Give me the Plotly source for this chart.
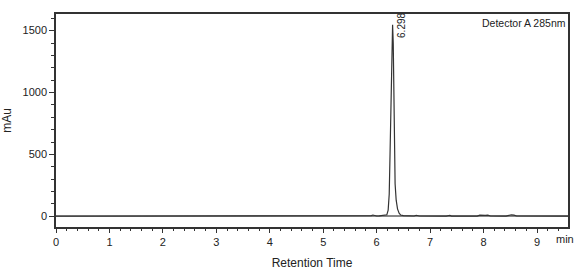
import plotly.graph_objects as go

# Retention time (min) and detector signal (mAu)
time_min = [0.0, 2.38, 2.42, 2.45, 2.48, 2.52, 5.85, 5.90, 5.93, 5.96, 6.00, 6.05, 6.10, 6.15,
            6.19, 6.215, 6.235, 6.25, 6.27, 6.285, 6.298, 6.31, 6.325, 6.336, 6.345, 6.365,
            6.39, 6.42, 6.45, 6.50, 6.55, 6.70, 6.74, 6.77, 6.80, 7.30, 7.34, 7.37, 7.40,
            7.88, 7.93, 7.98, 8.03, 8.08, 8.13, 8.42, 8.47, 8.52, 8.57, 8.62, 9.6]
signal_mau = [0, 0, 4, 6, 4, 0, 0, 6, 10, 6, 2, 3, 5, 6,
              12, 50, 180, 500, 1000, 1400, 1548, 1400, 1000, 500, 260, 130,
              60, 25, 10, 5, 3, 2, 8, 7, 2, 1, 8, 7, 1,
              1, 9, 6, 8, 9, 2, 1, 9, 12, 9, 2, 1]

peak_time = 6.298
peak_label = "6.298"
detector_label = "Detector A 285nm"

x_ticks = [0, 1, 2, 3, 4, 5, 6, 7, 8, 9]
y_ticks = [0, 500, 1000, 1500]

font_family = "Liberation Sans, Arial, sans-serif"
text_color = "#222222"

fig = go.Figure()
fig.add_trace(go.Scatter(x=time_min, y=signal_mau, mode="lines",
                         line=dict(color="#333333", width=1.2), hoverinfo="skip"))

fig.add_annotation(x=6.46, y=1540, text=peak_label, textangle=-90, showarrow=False,
                   xanchor="center", yanchor="middle",
                   font=dict(size=10, color=text_color, family=font_family))
fig.add_annotation(x=1.0, y=1.0, xref="paper", yref="paper", text=detector_label,
                   showarrow=False, xanchor="right", yanchor="top", yshift=-1,
                   font=dict(size=10.5, color=text_color, family=font_family))
fig.add_annotation(x=0.994, y=-0.058, xref="paper", yref="paper", text="min",
                   showarrow=False, xanchor="center", yanchor="middle",
                   font=dict(size=11, color=text_color, family=font_family))

axis_common = dict(showline=True, linecolor="#333333", linewidth=1.5, mirror=True,
                   showgrid=False, ticks="outside", tickcolor="#333333", tickwidth=1,
                   automargin=False,
                   tickfont=dict(size=11, color=text_color, family=font_family))

fig.update_xaxes(range=[0, 9.58], tickvals=x_ticks, ticklen=4, zeroline=False,
                 minor=dict(dtick=0.2, tick0=0, ticks="outside", ticklen=2,
                            tickcolor="#333333", tickwidth=1),
                 title=dict(text="Retention Time", standoff=12,
                            font=dict(size=12, color=text_color, family=font_family)),
                 **axis_common)
fig.update_yaxes(range=[-86.7, 1634.5], tickvals=y_ticks, ticklen=5,
                 zeroline=True, zerolinecolor="#888888", zerolinewidth=2,
                 minor=dict(dtick=100, tick0=0, ticks="outside", ticklen=3,
                            tickcolor="#333333", tickwidth=1),
                 title=dict(text="mAu", standoff=12,
                            font=dict(size=12, color=text_color, family=font_family)),
                 **axis_common)

fig.update_layout(width=584, height=273, margin=dict(l=56, r=16, t=14, b=46),
                  template="simple_white",
                  font=dict(family=font_family, color=text_color),
                  paper_bgcolor="white", plot_bgcolor="white", showlegend=False)

fig.write_html("out.html")
